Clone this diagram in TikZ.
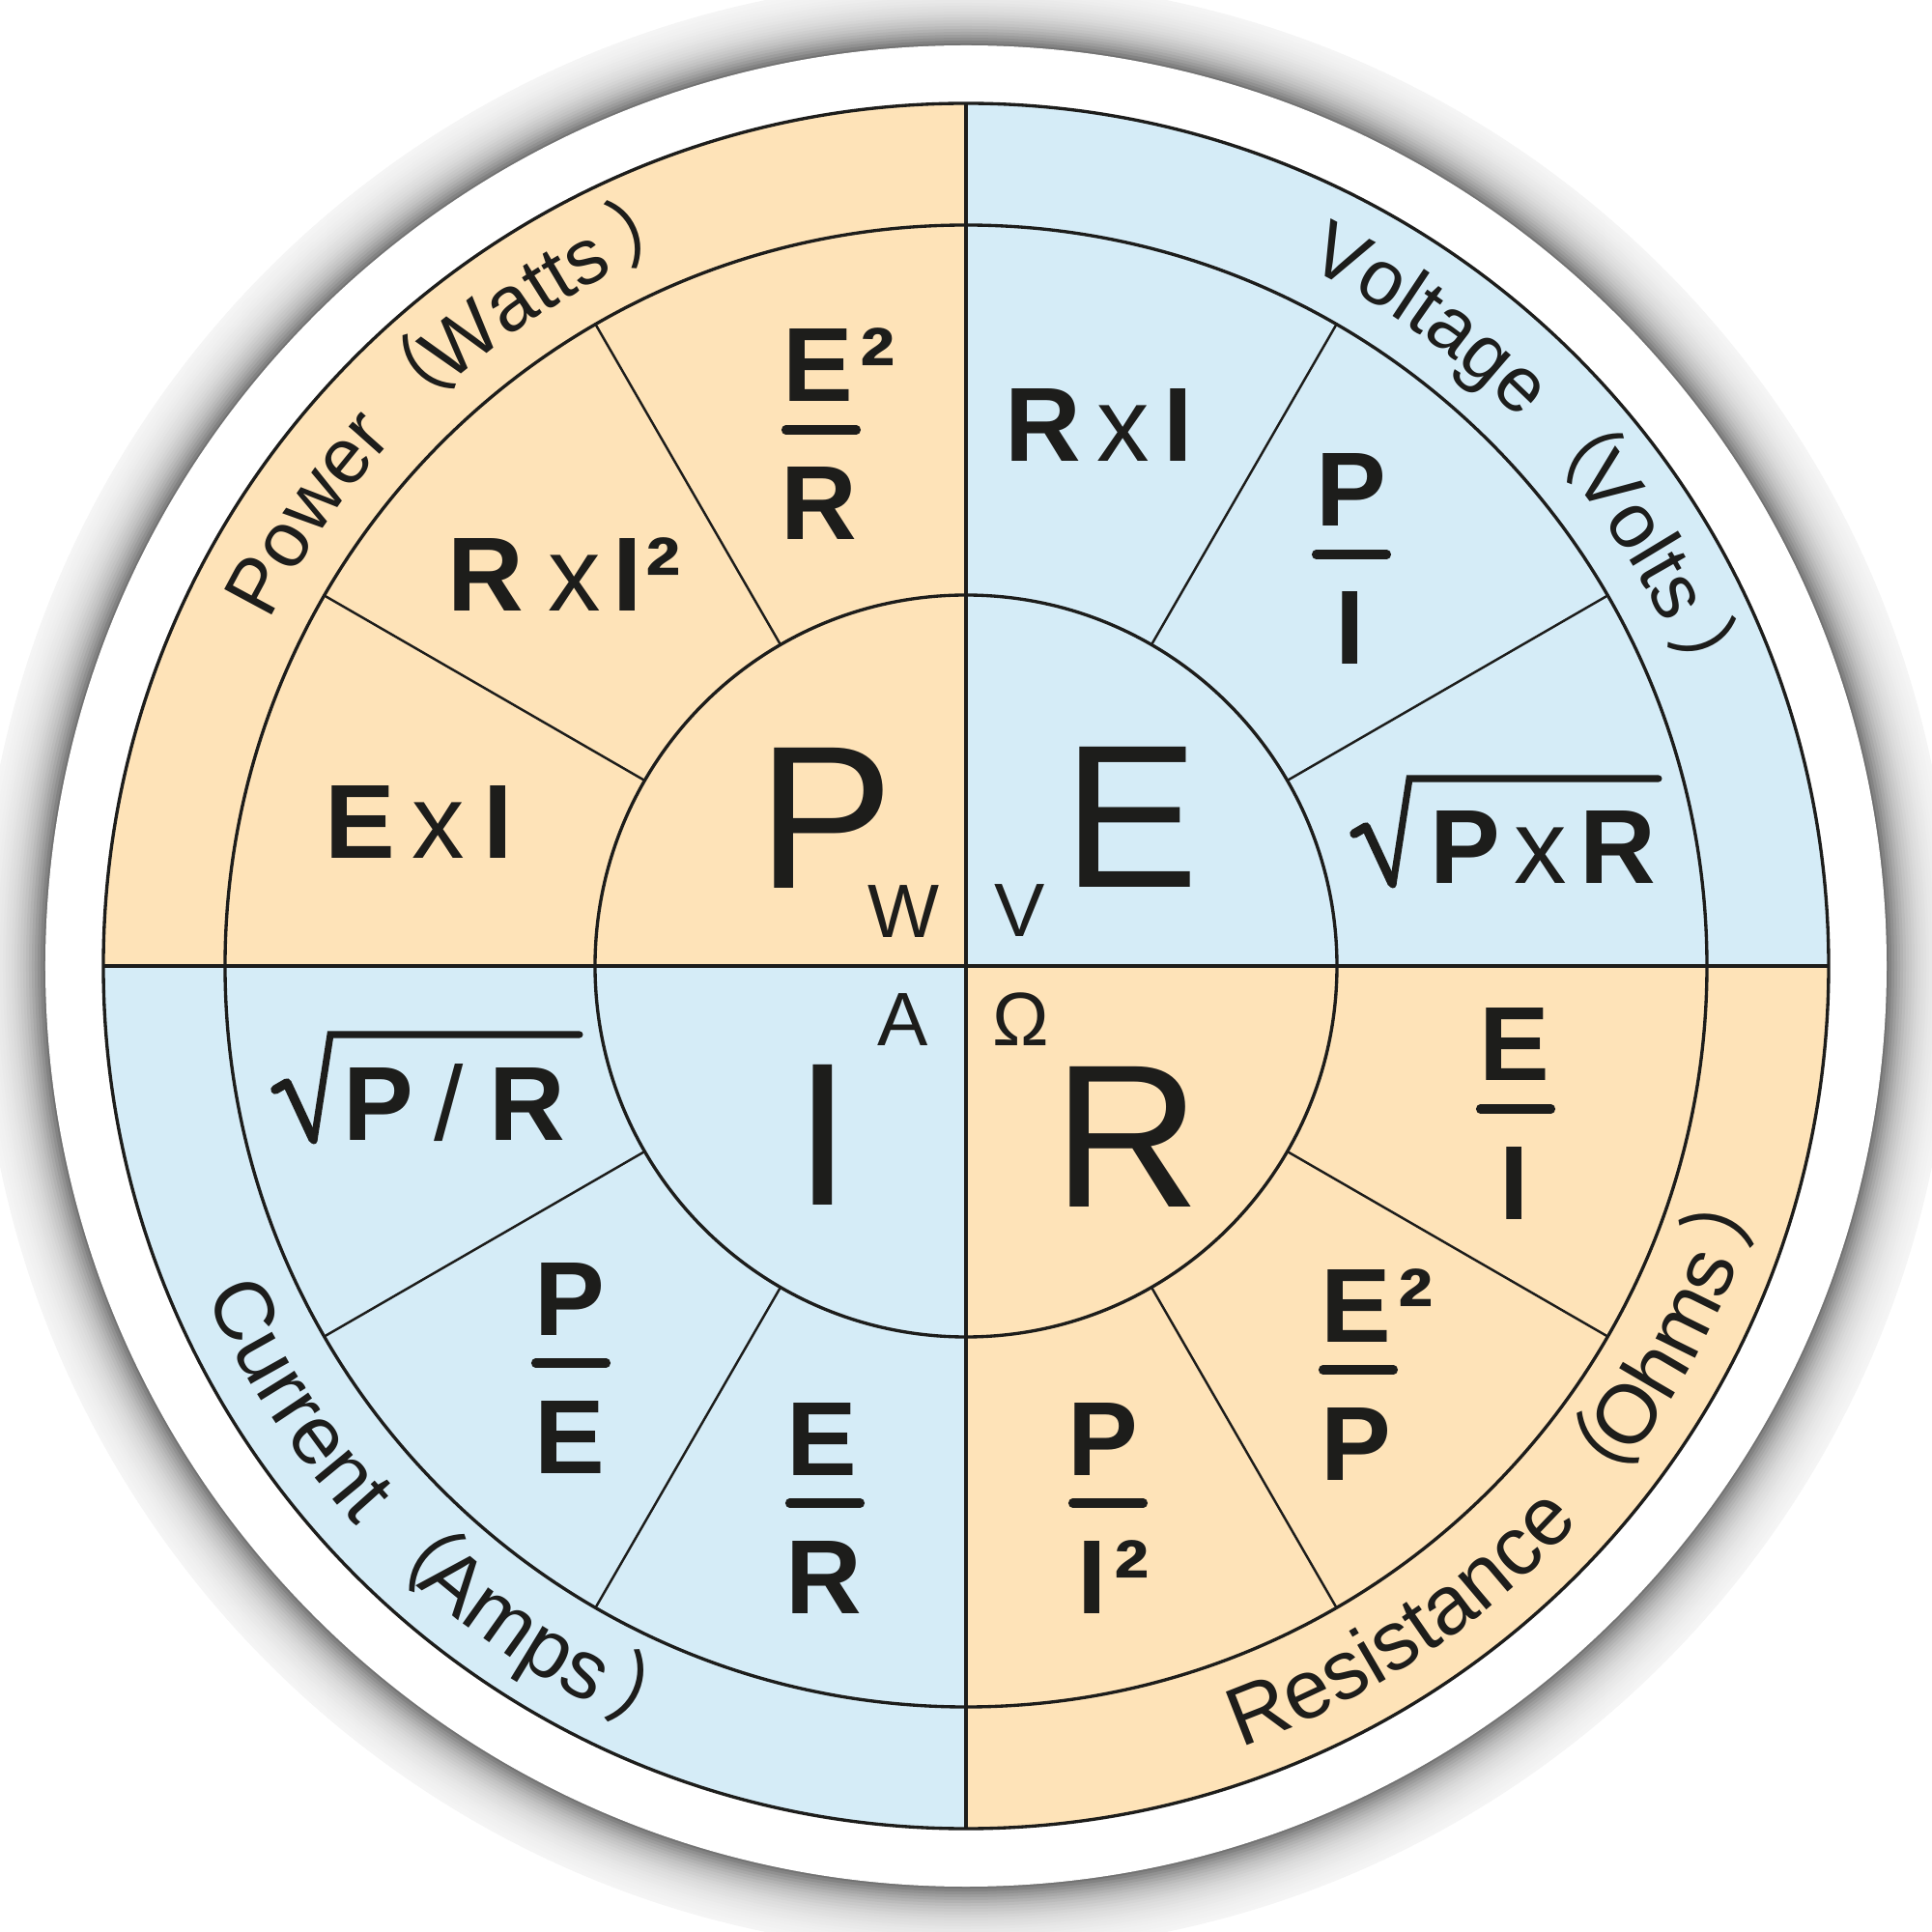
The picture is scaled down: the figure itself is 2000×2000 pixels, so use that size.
\documentclass[tikz,border=0pt]{standalone}
\usepackage{fontspec}
\setmainfont{Liberation Sans}
\newfontfamily\cjkfont{Noto Sans CJK SC}
\usetikzlibrary{decorations.text}
\definecolor{peach}{HTML}{FEE3B8}
\definecolor{skyb}{HTML}{D5ECF7}
\definecolor{ink}{HTML}{1D1D1B}
\newcommand\fmlfont{\fontsize{31pt}{31pt}\selectfont\bfseries}
\newcommand\bigfont{\fontsize{60pt}{60pt}\selectfont}
\newcommand\unitfont{\fontsize{22.3pt}{22.3pt}\selectfont}
\newcommand\lblT{\rmfamily\mdseries\fontsize{23pt}{23pt}\selectfont}
\newcommand\lblTp{\cjkfont\fontsize{23pt}{23pt}\selectfont}
\newcommand\lblB{\rmfamily\mdseries\fontsize{24.5pt}{24.5pt}\selectfont}
\newcommand\lblBp{\cjkfont\fontsize{24.5pt}{24.5pt}\selectfont}
\newcommand\tmx{{\mdseries x}}
\newcommand\supsq{\rlap{\hspace{2pt}²}}
% name, xbar, ybar, xnum, num, xden, den
\newcommand\fracat[7]{%
  \node[fml] (#1n) at (#4,{#3+29}) {#5};
  \draw[fbar] ({#2-36.5},#3) -- ({#2+36.5},#3);
  \node[fml] (#1d) at (#6,{#3-114}) {#7};}
\newcommand\radat[2]{%
  \begin{scope}[shift={(#1,#2)}]
  \draw[ink, line width=2.7pt, line cap=round, line join=round] (402,137) -- (414,144) -- (441,86);
  \draw[ink, line width=2pt, line join=miter, line cap=round] (442,84) -- (459,194) -- (717,194);
  \end{scope}}
\begin{document}
\begin{tikzpicture}[x=0.01cm,y=0.01cm,
  fml/.style={font=\fmlfont, text=ink, inner sep=0pt, anchor=base},
  bigl/.style={font=\bigfont, text=ink, inner sep=0pt, anchor=base},
  unitl/.style={font=\unitfont, text=ink, inner sep=0pt, anchor=base},
  fbar/.style={ink, line width=2.6pt, line cap=round},
  ring/.style={ink, line width=0.95pt},
  divl/.style={ink, line width=0.7pt}]
\useasboundingbox (-1000,-1000) rectangle (1000,1000);
\clip (-1000,-1000) rectangle (1000,1000);
\fill[white] (-1000,-1000) rectangle (1000,1000);
% soft shadow
\foreach \d in {66,63,...,0}{%
  \pgfmathsetmacro\dk{55*exp(-\d/25)}%
  \pgfmathsetmacro\rr{955+\d}%
  \fill[black!\dk] (0,0) circle[radius=\rr];}
\fill[white] (0,0) circle[radius=953];
% quadrants
\fill[peach] (0,0) -- (90:893) arc[start angle=90, end angle=180, radius=893] -- cycle;
\fill[skyb] (0,0) -- (0:893) arc[start angle=0, end angle=90, radius=893] -- cycle;
\fill[skyb] (0,0) -- (180:893) arc[start angle=180, end angle=270, radius=893] -- cycle;
\fill[peach] (0,0) -- (270:893) arc[start angle=270, end angle=360, radius=893] -- cycle;
% rings and lines
\draw[ring] (0,0) circle[radius=893];
\draw[ring] (0,0) circle[radius=767];
\draw[ring] (0,0) circle[radius=384];
\draw[ring] (-893,0) -- (893,0);
\draw[ring] (0,-893) -- (0,893);
\foreach \a in {30,60,120,150,210,240,300,330}{\draw[divl] (\a:384) -- (\a:767);}
% centre letters
\node[bigl] (bigP) at (-145,80) {P};
\node[bigl] (bigE) at (171,81) {E};
\node[bigl] (bigI) at (-148.5,-248) {I};
\node[bigl] (bigR) at (167,-249) {R};
\node[unitl] (uW) at (-64.5,29.4) {W};
\node[unitl] (uV) at (56,30) {V};
\node[unitl] (uA) at (-65,-83) {A};
\node[unitl] (uO) at (57,-83) {Ω};
% formulas
\fracat{fa}{-150}{555}{-153}{E\supsq}{-152}{R}
\fracat{fb}{399}{426}{399}{P}{398}{I}
\fracat{fc}{-409}{-411}{-410}{P}{-410}{E}
\fracat{fd}{-146}{-556}{-149}{E}{-147}{R}
\fracat{fe}{569}{-148}{568}{E}{568}{I}
\fracat{ff}{406}{-418}{404}{E\supsq}{404}{P}
\fracat{fg}{147}{-556}{142}{P}{131}{I\supsq}
\node[fml, anchor=base west] (rxi) at (40,522) {R\hspace{4.5pt}\tmx\hspace{4.2pt}I};
\node[fml, anchor=base west] (rxii) at (-537,367) {R\hspace{7pt}\tmx\hspace{3.6pt}I\hspace{1pt}²};
\node[fml, anchor=base west] (exi) at (-664,111) {E\hspace{5pt}\tmx\hspace{5.5pt}I};
\radat{0}{0}
\node[fml, anchor=base west] (sqpr) at (480,85) {P\hspace{4pt}\tmx\hspace{3.9pt}R};
\radat{-1117}{-265}
\node[fml, anchor=base west] (sqpdr) at (-645,-180) {P\hspace{6pt}{\mdseries/}\hspace{7.5pt}R};
% ring labels
\path[decorate, decoration={text along path, text color=ink, text align=center,
  text={|\lblT|Power|\lblTp\hspace*{2.5pt}|（|\lblT\kern-2.5pt|W|\lblT|atts|\lblTp\hspace*{4pt}|）}}]
  (171.9:805) arc[start angle=171.9, end angle=91.9, radius=805];
\path[decorate, decoration={text along path, text color=ink, text align=center,
  text={|\lblT|Voltage|\lblTp\hspace*{2.5pt}|（|\lblT\kern-2.5pt|V|\lblT|olts|\lblTp\hspace*{4pt}|）}}]
  (81.7:805) arc[start angle=81.7, end angle=1.7, radius=805];
\path[decorate, decoration={text along path, text color=ink, text align=center,
  text={|\lblB|Current|\lblBp\hspace*{2.5pt}|（|\lblB\kern-2.5pt|A|\lblB|mps|\lblBp\hspace*{4pt}|）}}]
  (186.6:857) arc[start angle=186.6, end angle=266.6, radius=857];
\path[decorate, decoration={text along path, text color=ink, text align=center,
  text={|\lblB|Resistance|\lblBp\hspace*{2.5pt}|（|\lblB\kern-2.5pt|O|\lblB|hms|\lblBp\hspace*{4pt}|）}}]
  (272.5:857) arc[start angle=272.5, end angle=362.5, radius=857];
\end{tikzpicture}
\end{document}
